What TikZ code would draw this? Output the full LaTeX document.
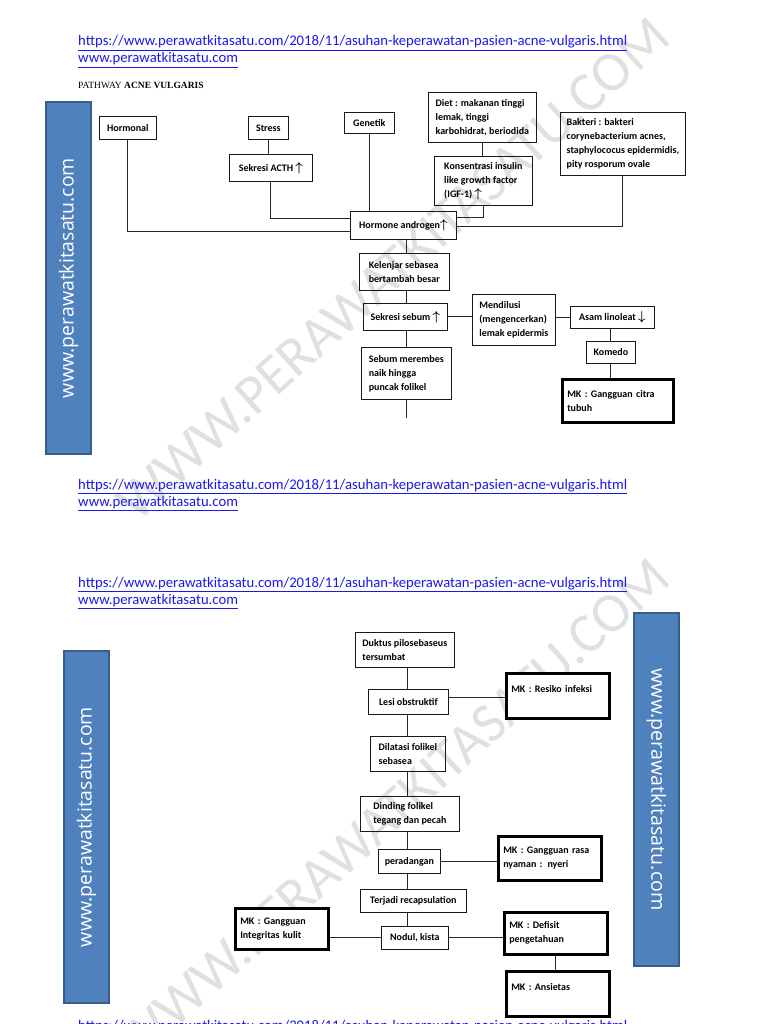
\documentclass[tikz,border=0pt]{standalone}
\usepackage{amsfonts, amsmath, amssymb}
\usepackage{graphicx}
\usepackage{fontspec}
\setmainfont{Carlito}
\newfontfamily\pathfont{Liberation Serif}
\newfontfamily\barfont{Open Sans}
\usepackage{tikz}
\usepackage{xcolor}
\usetikzlibrary{shadows}
\definecolor{linkblue}{RGB}{25,25,235}
\definecolor{barblue}{RGB}{79,129,189}
\definecolor{barline}{RGB}{56,93,138}
\newcommand{\up}{\scalebox{1.3}{$\boldsymbol{\uparrow}$}}
\newcommand{\down}{\scalebox{1.3}{$\boldsymbol{\downarrow}$}}

\begin{document}
\begin{tikzpicture}[x=1pt, y=-1pt,
            pbox/.style={draw=black!90, line width=0.7pt, anchor=north west, align=left, inner xsep=5pt, inner ysep=1pt, font=\fontsize{10}{14}\selectfont\bfseries},
            mkbox/.style={pbox, draw=black, line width=2.5pt, fill=white, drop shadow={shadow xshift=1.5pt, shadow yshift=-1.5pt, fill=black!45, opacity=.6}},
            wire/.style={draw=black!85, line width=0.8pt},
            linktext/.style={anchor=base west, inner sep=0pt, text=linkblue, font=\fontsize{14.7}{17}\selectfont},
            sidebar/.style={fill=barblue, draw=barline, line width=1.5pt, text=white, minimum height=45pt, inner sep=0pt},
            wmark/.style={text=black!12, inner sep=0pt, rotate=42}]
            \useasboundingbox (0,0) rectangle (768,1024);
            \fill[white] (0,0) rectangle (768,1024);

            % watermarks
            \node[wmark] (WmA) at (393,269) {\resizebox{720pt}{!}{WWW.PERAWATKITASATU.COM}};
            \node[wmark] (WmB) at (393,810) {\resizebox{720pt}{!}{WWW.PERAWATKITASATU.COM}};

            % links
            \node[linktext] (UrlA) at (78,46) {\underline{https://www.perawatkitasatu.com/2018/11/asuhan-keperawatan-pasien-acne-vulgaris.html}};
            \node[linktext] (WebA) at (78,63) {\underline{www.perawatkitasatu.com}};
            \node[anchor=base west, inner sep=0pt, font=\pathfont\fontsize{9.5}{11}\selectfont] (Title) at (78,88.5) {PATHWAY \textbf{ACNE VULGARIS}};
            \node[linktext] (UrlB) at (78,489) {\underline{https://www.perawatkitasatu.com/2018/11/asuhan-keperawatan-pasien-acne-vulgaris.html}};
            \node[linktext] (WebB) at (78,506) {\underline{www.perawatkitasatu.com}};
            \node[linktext] (UrlC) at (78,587) {\underline{https://www.perawatkitasatu.com/2018/11/asuhan-keperawatan-pasien-acne-vulgaris.html}};
            \node[linktext] (WebC) at (78,604) {\underline{www.perawatkitasatu.com}};
            \node[linktext] (UrlD) at (78,1030) {\underline{https://www.perawatkitasatu.com/2018/11/asuhan-keperawatan-pasien-acne-vulgaris.html}};

            % side bars
            \node[sidebar, rotate=90, minimum width=352pt] (BarA) at (68.5,278) {\resizebox{240pt}{!}{\barfont www.perawatkitasatu.com}};
            \node[sidebar, rotate=90, minimum width=352pt] (BarB) at (86.5,827) {\resizebox{240pt}{!}{\barfont www.perawatkitasatu.com}};
            \node[sidebar, rotate=-90, minimum width=353pt] (BarC) at (656.5,789.5) {\resizebox{242pt}{!}{\barfont www.perawatkitasatu.com}};

            % page 1
            \coordinate (SpineA) at (406,0);
            \node[pbox, minimum width=57pt, minimum height=23pt] (Hormonal) at (99,116) {Hormonal};
            \node[pbox, minimum width=40pt, minimum height=23pt] (Stress) at (248,116) {Stress};
            \node[pbox, minimum width=50pt, minimum height=21pt] (Genetik) at (344,112) {Genetik};
            \node[pbox, minimum width=108pt, minimum height=50pt] (Diet) at (428,92) {Diet : makanan tinggi\\lemak, tinggi\\karbohidrat, beriodida};
            \node[pbox, minimum width=125pt, minimum height=63pt] (Bakteri) at (560,112) {Bakteri : bakteri\\corynebacterium acnes,\\staphylococus epidermidis,\\pity rosporum ovale};
            \node[pbox, minimum width=83pt, minimum height=27pt] (ACTH) at (229,154) {Sekresi ACTH \up};
            \node[pbox, minimum width=98pt, minimum height=49pt] (IGF) at (434,156) {Konsentrasi insulin\\like growth factor\\(IGF-1) \up};
            \node[pbox, minimum width=106pt, minimum height=28pt] (Androgen) at (350,211) {Hormone androgen\up};
            \node[pbox, minimum width=90pt, minimum height=37pt] (Kelenjar) at (359,253) {Kelenjar sebasea\\bertambah besar};
            \node[pbox, minimum width=84pt, minimum height=27pt] (Sebum) at (363,303) {Sekresi sebum \up};
            \node[pbox, minimum width=83pt, minimum height=51pt] (Mendilusi) at (472,294) {Mendilusi\\(mengencerkan)\\lemak epidermis};
            \node[pbox, minimum width=84pt, minimum height=22pt] (Asam) at (570,306) {Asam linoleat \down};
            \node[pbox, minimum width=49pt, minimum height=22pt] (Komedo) at (586,341) {Komedo};
            \node[pbox, minimum width=90pt, minimum height=52pt] (Merembes) at (361,347) {Sebum merembes\\naik hingga\\puncak folikel};
            \coordinate (MerembesEnd) at (406,418);

            \draw[wire] (Hormonal) |- ([yshift=-6pt]Androgen.west);
            \draw[wire] (Stress.south) -- (Stress.south |- ACTH.north);
            \draw[wire] (ACTH.south) |- ([yshift=7pt]Androgen.west);
            \draw[wire] (Genetik.south) -- (Genetik.south |- Androgen.north);
            \draw[wire] (Diet.south) -- (Diet.south |- IGF.north);
            \draw[wire] (IGF.south) |- ([yshift=7.5pt]Androgen.east);
            \draw[wire] (Bakteri.south) |- ([yshift=-1pt]Androgen.east);
            \draw[wire] (Androgen.south -| SpineA) -- (Kelenjar.north -| SpineA);
            \draw[wire] (Kelenjar.south -| SpineA) -- (Sebum.north -| SpineA);
            \draw[wire] (Sebum.south -| SpineA) -- (Merembes.north -| SpineA);
            \draw[wire] (Merembes.south -| SpineA) -- (MerembesEnd);
            \draw[wire] (Sebum.east) -- (Sebum.east -| Mendilusi.west);
            \draw[wire] (Asam.west -| Mendilusi.east) -- (Asam.west);
            \draw[wire] (Komedo.north |- Asam.south) -- (Komedo.north);

            \node[mkbox, text width=101pt, minimum height=43pt] (Citra) at (561,378) {MK : Gangguan citra\\tubuh};
            \draw[wire] (Komedo.south) -- (Komedo.south |- Citra.north);

            % page 2
            \coordinate (SpineB) at (407,0);
            \node[pbox, minimum width=99pt, minimum height=35pt] (Duktus) at (355,632) {Duktus pilosebaseus\\tersumbat};
            \node[pbox, minimum width=80pt, minimum height=25pt] (Lesi) at (368,689) {Lesi obstruktif};
            \node[pbox, minimum width=75pt, minimum height=35pt] (Dilatasi) at (370,736) {Dilatasi folikel\\sebasea};
            \node[pbox, minimum width=99pt, minimum height=35pt] (Dinding) at (360,796) {Dinding folikel\\tegang dan pecah};
            \node[pbox, minimum width=62pt, minimum height=24pt] (Radang) at (378,849) {peradangan};
            \node[pbox, minimum width=106pt, minimum height=23pt] (Recaps) at (360,889) {Terjadi recapsulation};
            \node[pbox, minimum width=67pt, minimum height=23pt] (Nodul) at (381,926) {Nodul, kista};

            \draw[wire] (Duktus.south -| SpineB) -- (Lesi.north -| SpineB);
            \draw[wire] (Lesi.south -| SpineB) -- (Dilatasi.north -| SpineB);
            \draw[wire] (Dilatasi.south -| SpineB) -- (Dinding.north -| SpineB);
            \draw[wire] (Dinding.south -| SpineB) -- (Radang.north -| SpineB);
            \draw[wire] (Radang.south -| SpineB) -- (Recaps.north -| SpineB);
            \draw[wire] (Recaps.south -| SpineB) -- (Nodul.north -| SpineB);

            \node[mkbox, text width=93pt, minimum height=45pt] (Infeksi) at (505,672) {MK : Resiko infeksi\\\mbox{}};
            \node[mkbox, text width=93pt, minimum height=44pt] (Nyeri) at (497,835) {MK : Gangguan rasa\\nyaman : nyeri};
            \node[mkbox, text width=83pt, minimum height=41pt] (Kulit) at (234,907) {MK : Gangguan\\Integritas kulit};
            \node[mkbox, text width=93pt, minimum height=42pt] (Defisit) at (503,911) {MK : Defisit\\pengetahuan};
            \node[mkbox, text width=93pt, minimum height=45pt] (Ansietas) at (505,970) {MK : Ansietas\\\mbox{}};

            \draw[wire] ([yshift=4pt]Lesi.east) -- ([yshift=4pt]Lesi.east -| Infeksi.west);
            \draw[wire] (Radang.east) -- (Radang.east -| Nyeri.west);
            \draw[wire] (Nodul.west) -- (Nodul.west -| Kulit.east);
            \draw[wire] (Nodul.east) -- (Nodul.east -| Defisit.west);
            \draw[wire] (Defisit.south) -- (Defisit.south |- Ansietas.north);
        \end{tikzpicture}
\end{document}
